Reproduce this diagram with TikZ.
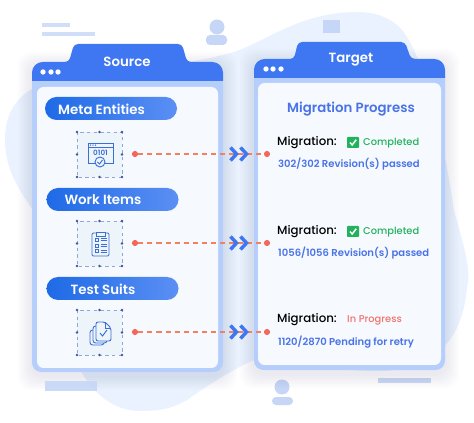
\documentclass[tikz,border=0pt]{standalone}
\usepackage{fontspec}
\setmainfont{Poppins}
\newfontfamily\popmed{Poppins Medium}
\newfontfamily\popsemi{Poppins SemiBold}
\usetikzlibrary{shapes.misc}
\definecolor{blobblue}{HTML}{E9F2FE}
\definecolor{decoblue}{HTML}{C6D6F6}
\definecolor{hdrblue}{HTML}{3F76F2}
\definecolor{rimblue}{HTML}{B5CEFB}
\definecolor{paneblue}{HTML}{F6FAFF}
\definecolor{textblue}{HTML}{4A73E6}
\definecolor{iconblue}{HTML}{3B6FD8}
\definecolor{framedot}{HTML}{44549F}
\definecolor{framedash}{HTML}{8FA5DC}
\definecolor{iconbg}{HTML}{EDF5FB}
\definecolor{flowred}{HTML}{F4805E}
\definecolor{dotred}{HTML}{F2685A}
\definecolor{okgreen}{HTML}{23B25C}
\definecolor{waitred}{HTML}{F0746C}
\definecolor{pillstart}{HTML}{1E6AE6}
\definecolor{pillend}{HTML}{5B8FF4}
\tikzset{
  deco/.style={fill=decoblue},
  pill/.style={rounded rectangle,minimum width=99pt,minimum height=17.25pt,inner sep=0pt,left color=pillstart,right color=pillend},
  pilltext/.style={text=white,font=\popsemi\fontsize{10}{12}\selectfont},
  wintitle/.style={text=white,font=\popsemi\fontsize{10}{12}\selectfont},
  windot/.style={circle,fill=white,minimum size=4pt,inner sep=0pt},
  framemark/.style={circle,fill=framedot,minimum size=2.2pt,inner sep=0pt},
  startdot/.style={circle,fill=dotred,minimum size=4.6pt,inner sep=0pt},
  flow/.style={flowred,line width=1pt,dash pattern=on 3.8pt off 3pt},
  chev/.style={hdrblue,line width=2.6pt,miter limit=10},
  mig/.style={anchor=west,text=black,font=\popmed\fontsize{8.85}{12}\selectfont},
  stat/.style={anchor=west,font=\popmed\fontsize{7.4}{10}\selectfont},
  detail/.style={anchor=west,text=textblue,font=\popsemi\fontsize{7.52}{10}\selectfont},
  icon/.style={iconblue,line width=.7pt},
}
% dashed frame round an icon, centred on (#1,#2)
\newcommand{\iconframe}[2]{
  \fill[iconbg] (#1-22.5,#2-22.5) rectangle (#1+22.5,#2+22.5);
  \draw[framedash,line width=.5pt,dash pattern=on 2.5pt off 2.5pt] (#1-22.5,#2-22.5) rectangle (#1+22.5,#2+22.5);
  \foreach \fx/\fy in {-22.5/-22.5,0/-22.5,22.5/-22.5,-22.5/0,22.5/0,-22.5/22.5,0/22.5,22.5/22.5}
    \node[framemark] at (#1+\fx,#2+\fy){};
}
\newcommand{\chevrons}[1]{
  \draw[chev] ([shift={(-8.5,-6.5)}]#1) -- ([shift={(-2.5,0)}]#1) -- ([shift={(-8.5,6.5)}]#1);
  \draw[chev] ([shift={(1.5,-6.5)}]#1) -- ([shift={(7.5,0)}]#1) -- ([shift={(1.5,6.5)}]#1);
}
\newcommand{\checkbox}[2]{
  \fill[okgreen,rounded corners=.6pt] (#1-6,#2-5.5) rectangle (#1+6,#2+5.5);
  \draw[white,line width=1.1pt] (#1-3,#2) -- (#1-.8,#2+2.5) -- (#1+3.2,#2-2.8);
}
\begin{document}
\begin{tikzpicture}[x=.75pt,y=-.75pt]
  \useasboundingbox (0,0) rectangle (474,423);
  % Backdrop
  \fill[blobblue] (5,140) .. controls (5,105) and (25,85) .. (60,80)
    .. controls (130,72) and (200,62) .. (234,52)
    .. controls (265,42) and (300,12) .. (357,12)
    .. controls (385,12) and (400,25) .. (407,37)
    .. controls (430,75) and (445,150) .. (454,210)
    .. controls (462,240) and (472,270) .. (467,287)
    .. controls (465,315) and (455,335) .. (447,343)
    .. controls (435,358) and (425,363) .. (410,367)
    .. controls (385,373) and (370,371) .. (350,370)
    -- (254,360)
    .. controls (240,366) and (215,380) .. (187,400)
    .. controls (170,410) and (155,411) .. (140,411)
    .. controls (115,411) and (95,395) .. (82,373)
    -- (33,210)
    .. controls (15,185) and (5,165) .. (5,140) -- cycle;
  \fill[deco,opacity=.8] (42,23) rectangle (70,27);
  \fill[deco,opacity=.8] (42,32) rectangle (95,36);
  \fill[deco] (217,27) circle[radius=7.5];
  \fill[deco,rounded corners=3pt] (206,45) -- (206,35) -- (227,35) -- (227,45) -- cycle;
  \fill[deco] (323,20) rectangle (340,33);
  \fill[deco] (282,387) circle[radius=7.5];
  \fill[deco,rounded corners=3pt] (272,405) -- (272,397) -- (293,397) -- (293,405) -- cycle;
  \fill[deco,opacity=.9] (378,378) rectangle (431,383);
  % Soft shadows
  \foreach \d in {2,4,...,14}{
    \fill[black!70!blue,opacity=.012,rounded corners=10pt] (32-\d,66-\d) rectangle (223+\d,376+\d);
    \fill[black!70!blue,opacity=.012,rounded corners=10pt] (254-\d,63-\d) rectangle (445+\d,374+\d);
  }
  \fill[deco,opacity=.9] (45,381) rectangle (97,391);
  % Source window
  \begin{scope}
    \fill[rimblue,rounded corners=7pt] (32,70) rectangle (223,372);
    \fill[hdrblue] (32,81) [rounded corners=8pt] -- (32,62) [rounded corners=3pt] -- (69,62) -- (74,44) -- (182,44) -- (187,62) [rounded corners=8pt] -- (223,62) [sharp corners] -- (223,81) -- cycle;
    \fill[paneblue,rounded corners=5pt] (37,87) rectangle (218,368);
    \node[windot] (srcdota) at (43,72){};
    \node[windot] (srcdotb) at (51,72){};
    \node[windot] (srcdotc) at (58,72){};
    \node[wintitle] (srctitle) at (127,61.5){Source};
    \node[pill] (metapill) at (111,108.5){};
    \node[pilltext] (metalabel) at (101.5,109){Meta Entities};
    \node[pill] (workpill) at (112.5,199.5){};
    \node[pilltext] (worklabel) at (103,200){Work Items};
    \node[pill] (testpill) at (112.5,288.5){};
    \node[pilltext] (testlabel) at (103,289){Test Suits};
  \end{scope}
  % Target window
  \begin{scope}
    \fill[rimblue,rounded corners=7pt] (254,67) rectangle (445,370);
    \fill[hdrblue] (254,78) [rounded corners=8pt] -- (254,59) [rounded corners=3pt] -- (294,59) -- (298,42) -- (405,42) -- (411,59) [rounded corners=8pt] -- (445,59) [sharp corners] -- (445,78) -- cycle;
    \fill[paneblue,rounded corners=5pt] (258,83) rectangle (441,365);
    \node[windot] (tgtdota) at (266,69){};
    \node[windot] (tgtdotb) at (273,69){};
    \node[windot] (tgtdotc) at (281,69){};
    \node[wintitle] (tgttitle) at (351,59.5){Target};
    \node[text=textblue,font=\popsemi\fontsize{10}{12}\selectfont] (progress) at (351,109.5){Migration Progress};
    \node[mig] (miga) at (272.5,142.5){Migration:};
    \checkbox{353}{142.5}
    \node[stat,text=okgreen] (stata) at (358.5,143.5){Completed};
    \node[detail] (deta) at (273.5,164.5){302/302 Revision(s) passed};
    \node[mig] (migb) at (272.5,231.5){Migration:};
    \checkbox{353}{231.5}
    \node[stat,text=okgreen] (statb) at (358.5,232.5){Completed};
    \node[detail] (detb) at (273.5,253.5){1056/1056 Revision(s) passed};
    \node[mig] (migc) at (272.5,319.5){Migration:};
    \node[stat,text=waitred] (statc) at (342.5,320.5){In Progress};
    \node[detail] (detc) at (273.5,342.5){1120/2870 Pending for retry};
  \end{scope}
  % Meta entities row
  \iconframe{99.5}{154.5}
  \draw[icon] (88,143) rectangle (113,163);
  \draw[icon] (88,147.5) -- (113,147.5);
  \foreach \bx in {90.5,93,95.5} \fill[iconblue] (\bx,145.2) circle[radius=.7];
  \node[text=iconblue,font=\popsemi\fontsize{5.4}{6}\selectfont,inner sep=0pt] (bits) at (100.5,152.5){0101};
  \draw[icon,fill=iconbg] (100,162) circle[radius=5];
  \draw[icon] (97.5,162) -- (99.5,164) -- (102.5,160);
  \node[startdot] (srca) at (135,154){};
  \node[startdot] (tgta) at (267,154){};
  \coordinate (flowa) at (239,154);
  \draw[flow] (srca) -- (tgta);
  \chevrons{flowa}
  % Work items row
  \iconframe{99.5}{243.5}
  \draw[icon,rounded corners=1pt] (92,233) rectangle (109,256);
  \draw[icon,fill=iconbg] (96,232) rectangle (105,236);
  \foreach \ry in {239.5,245.5,251}{
    \draw[icon,line width=.5pt] (95,\ry-1.5) rectangle (98.5,\ry+1.5);
    \draw[icon,line width=.5pt] (100.5,\ry-1) -- (107,\ry-1);
    \draw[icon,line width=.5pt] (100.5,\ry+1) -- (107,\ry+1);
  }
  \node[startdot] (srcb) at (135,243){};
  \node[startdot] (tgtb) at (267,243){};
  \coordinate (flowb) at (239,243);
  \draw[flow] (srcb) -- (tgtb);
  \chevrons{flowb}
  % Test suits row
  \iconframe{99.5}{332.5}
  \draw[icon,fill=iconbg,rounded corners=2pt] (90,330) rectangle (104,345);
  \draw[icon,fill=iconbg,rounded corners=2pt] (93,326) rectangle (107,343);
  \draw[icon,fill=iconbg,rounded corners=1.5pt] (96,322) -- (105,322) -- (111,328) -- (111,341) -- (96,341) -- cycle;
  \draw[icon] (105,322) -- (105,328) -- (111,328);
  \draw[icon] (100,333) -- (102.5,336) -- (107,330);
  \node[startdot] (srcc) at (135,332){};
  \node[startdot] (tgtc) at (267,332){};
  \coordinate (flowc) at (239,332);
  \draw[flow] (srcc) -- (tgtc);
  \chevrons{flowc}
\end{tikzpicture}
\end{document}
